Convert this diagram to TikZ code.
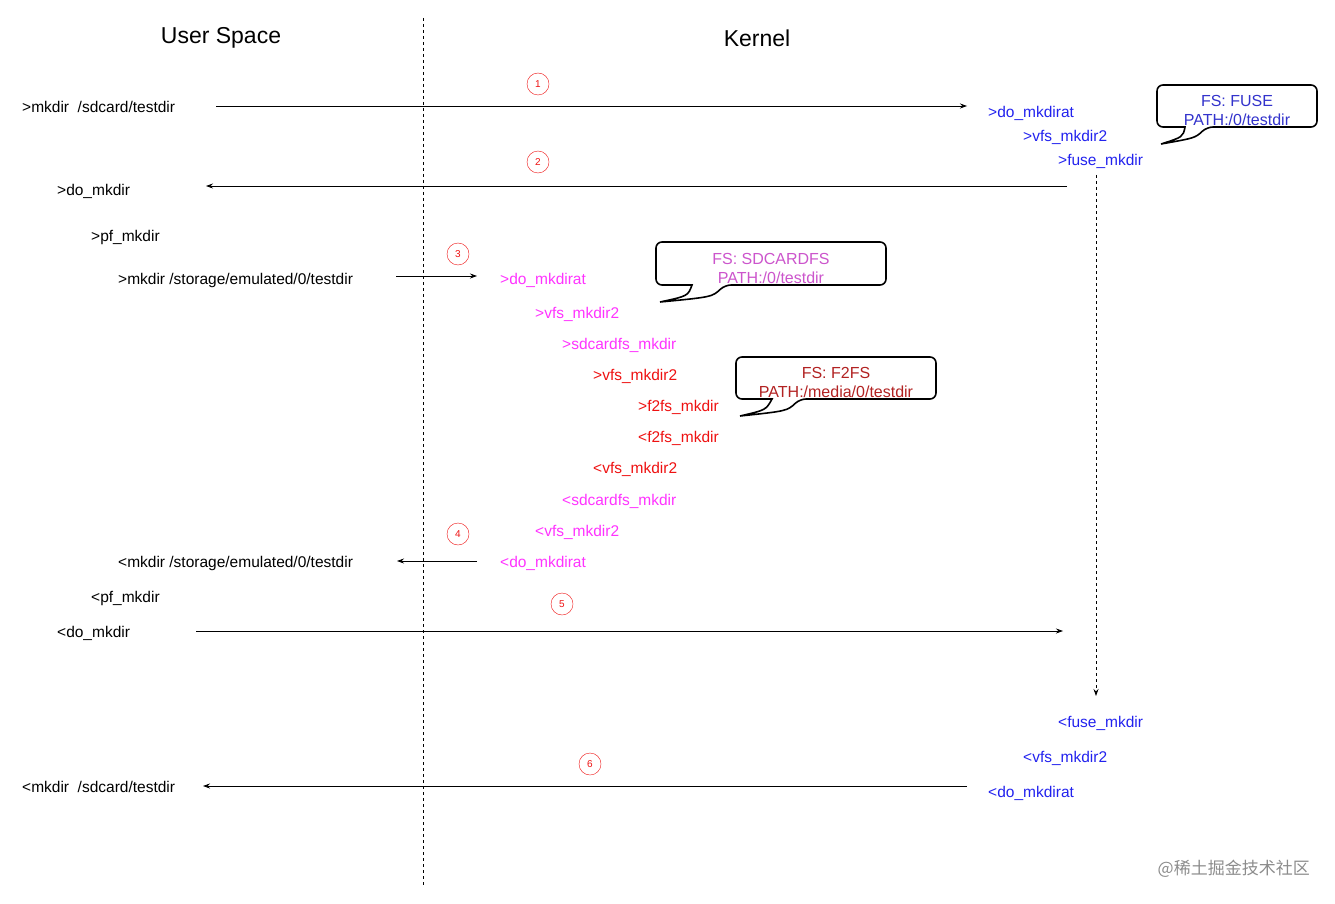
\documentclass[tikz,border=0pt]{standalone}
\usepackage{fontspec}
\setmainfont{Liberation Sans}
\newfontfamily\cjk{Noto Sans CJK SC}
\usetikzlibrary{arrows.meta}
\definecolor{kblue}{HTML}{2222EE}
\definecolor{kmag}{HTML}{FF33FF}
\definecolor{kred}{HTML}{EE1111}
\definecolor{cpur}{HTML}{CC55CC}
\definecolor{cred}{HTML}{B22222}
\definecolor{cblue}{HTML}{3333CC}
\begin{document}
\begin{tikzpicture}[x=1pt,y=-1pt,
  lbl/.style={anchor=west,inner sep=0pt,font=\fontsize{15.5}{17}\selectfont},
  ttl/.style={inner sep=0pt,font=\fontsize{23}{26}\selectfont},
  num/.style={circle,draw=kred,text=kred,thin,minimum size=22pt,inner sep=0pt,font=\fontsize{10}{11}\selectfont},
  arr/.style={-{Stealth[length=7pt,width=5pt]},line width=0.8pt},
  callout/.style={line width=1.6pt,fill=white,rounded corners=6pt},
  ctext/.style={align=center,inner sep=0pt,font=\fontsize{16}{19}\selectfont}]
\useasboundingbox (0,0) rectangle (1335,904);
\draw[dashed,line width=0.7pt] (423,18) -- (423,886);
\node[ttl] (us) at (221,38) {User Space};
\node[ttl] (ke) at (757,38) {Kernel};
% left labels
\node[lbl] (a1) at (22,107) {>mkdir~~/sdcard/testdir};
\node[lbl] (a2) at (57,191) {>do\_mkdir};
\node[lbl] (a3) at (91,237) {>pf\_mkdir};
\node[lbl] (a4) at (118,280) {>mkdir /storage/emulated/0/testdir};
\node[lbl] (a5) at (118,563) {<mkdir /storage/emulated/0/testdir};
\node[lbl] (a6) at (91,598) {<pf\_mkdir};
\node[lbl] (a7) at (57,633) {<do\_mkdir};
\node[lbl] (a8) at (22,787) {<mkdir~~/sdcard/testdir};
% blue kernel
\node[lbl,text=kblue] (b1) at (988,113) {>do\_mkdirat};
\node[lbl,text=kblue] (b2) at (1023,137) {>vfs\_mkdir2};
\node[lbl,text=kblue] (b3) at (1058,161) {>fuse\_mkdir};
\node[lbl,text=kblue] (b4) at (1058,723) {<fuse\_mkdir};
\node[lbl,text=kblue] (b5) at (1023,758) {<vfs\_mkdir2};
\node[lbl,text=kblue] (b6) at (988,793) {<do\_mkdirat};
% magenta / red
\node[lbl,text=kmag] (m1) at (500,280) {>do\_mkdirat};
\node[lbl,text=kmag] (m2) at (535,314) {>vfs\_mkdir2};
\node[lbl,text=kmag] (m3) at (562,345) {>sdcardfs\_mkdir};
\node[lbl,text=kred] (r1) at (593,376) {>vfs\_mkdir2};
\node[lbl,text=kred] (r2) at (638,407) {>f2fs\_mkdir};
\node[lbl,text=kred] (r3) at (638,438) {<f2fs\_mkdir};
\node[lbl,text=kred] (r4) at (593,469) {<vfs\_mkdir2};
\node[lbl,text=kmag] (m4) at (562,501) {<sdcardfs\_mkdir};
\node[lbl,text=kmag] (m5) at (535,532) {<vfs\_mkdir2};
\node[lbl,text=kmag] (m6) at (500,563) {<do\_mkdirat};
% arrow endpoints
\coordinate (p1s) at (216,106); \coordinate (p1e) at (967,106);
\coordinate (p2s) at (1067,186); \coordinate (p2e) at (206,186);
\coordinate (p3s) at (396,276); \coordinate (p3e) at (477,276);
\coordinate (p4s) at (477,561); \coordinate (p4e) at (397,561);
\coordinate (p5s) at (196,631); \coordinate (p5e) at (1063,631);
\coordinate (p6s) at (967,786); \coordinate (p6e) at (203,786);
\coordinate (ds) at (1096,175); \coordinate (de) at (1096,696);
\draw[arr] (p1s) -- (p1e);
\draw[arr] (p2s) -- (p2e);
\draw[arr] (p3s) -- (p3e);
\draw[arr] (p4s) -- (p4e);
\draw[arr] (p5s) -- (p5e);
\draw[arr] (p6s) -- (p6e);
\draw[arr,dashed] (ds) -- (de);
\node[num] (n1) at (538,84) {1};
\node[num] (n2) at (538,162) {2};
\node[num] (n3) at (458,254) {3};
\node[num] (n4) at (458,534) {4};
\node[num] (n5) at (562,604) {5};
\node[num] (n6) at (590,764) {6};
% callouts
\draw[callout] (692,285) -- (656,285) -- (656,242) -- (886,242) -- (886,285) -- (725,285) [sharp corners] .. controls (712,297) .. (660,302) .. controls (688,296) .. (692,285) -- cycle;
\node[ctext,text=cpur] (c1) at (771,268) {FS: SDCARDFS\\PATH:/0/testdir};
\draw[callout] (772,399) -- (736,399) -- (736,357) -- (936,357) -- (936,399) -- (800,399) [sharp corners] .. controls (787,411) .. (740,416) .. controls (766,410) .. (772,399) -- cycle;
\node[ctext,text=cred] (c2) at (836,382) {FS: F2FS\\PATH:/media/0/testdir};
\draw[callout] (1185,127) -- (1157,127) -- (1157,85) -- (1317,85) -- (1317,127) -- (1207,127) [sharp corners] .. controls (1195,138) .. (1161,144) .. controls (1183,137) .. (1185,127) -- cycle;
\node[ctext,text=cblue] (c3) at (1237,110) {FS: FUSE\\PATH:/0/testdir};
\node[anchor=east,inner sep=0pt,text=black!45,font=\cjk\fontsize{17}{19}\selectfont] (wm) at (1310,869) {@稀土掘金技术社区};
\end{tikzpicture}
\end{document}
